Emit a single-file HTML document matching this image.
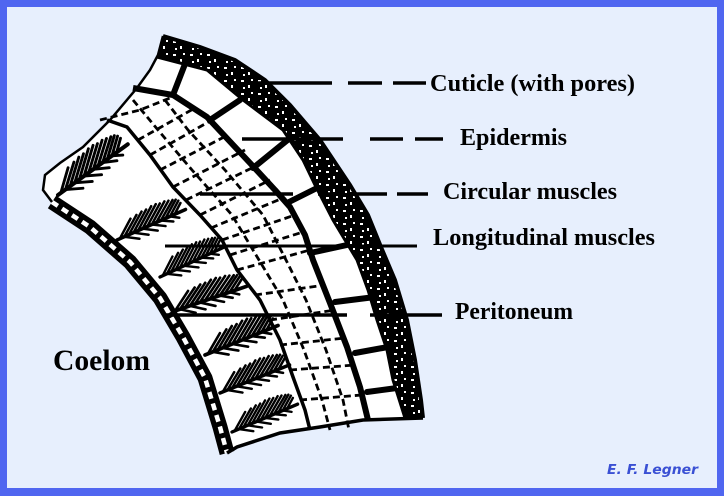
<!DOCTYPE html>
<html><head><meta charset="utf-8"><style>
html,body{margin:0;padding:0;width:724px;height:496px;overflow:hidden;background:#5066f0}
svg{display:block}
</style></head><body>
<svg width="724" height="496" viewBox="0 0 724 496" xmlns="http://www.w3.org/2000/svg">
<defs>
<pattern id="spk" width="17" height="13" patternUnits="userSpaceOnUse">
<rect width="17" height="13" fill="#000"/>
<rect x="3" y="2" width="3" height="2" fill="#fff"/>
<rect x="10" y="7" width="2" height="3" fill="#fff"/>
<rect x="13" y="1" width="2" height="2" fill="#fff"/>
<rect x="5" y="9" width="2" height="2" fill="#fff"/>
</pattern>
<g id="fth" stroke="#000" fill="none" stroke-linecap="round">
<path d="M0,0 L75,0" stroke-width="3.5"/>
<path d="M3,0 l18,-14 M8,0 l20,-15 M13,0 l21,-16 M18,0 l21,-16 M23,0 l22,-17 M28,0 l22,-17 M33,0 l21,-16 M38,0 l21,-16 M43,0 l20,-15 M48,0 l19,-14 M53,0 l17,-13 M58,0 l14,-11 M63,0 l10,-8 M8,0 l13,8 M18,0 l13,8 M28,0 l13,8 M38,0 l12,7 M48,0 l11,6 M58,0 l8,5" stroke-width="2.5"/>
</g>
</defs>

<rect x="7" y="7" width="710" height="481" fill="#e7effd"/>

<!-- white body -->
<path d="M163,36 L200,47 L235,60 L265,80 L290,105 L320,140 L350,185 L368,215 L381,247 L395,280 L407,320 L415,360 L421,400 L423,418 L363,420 L320,427 L280,433 L237,447 L227,453 L220,427 L205,378 L183,337 L160,298 L130,262 L90,227 L52,202 L43,190 L45,175 L60,163 L83,147 L110,120 L137,88 L150,70 L158,55 Z" fill="#fff"/>

<!-- dashed grid (longitudinal muscles) -->
<g stroke="#000" fill="none" stroke-width="2.8" stroke-dasharray="7 4">
<path d="M133,100 L158,130 L192,170 L232,215 L259,260 L283,300 L304,350 L322,400 L330,430"/>
<path d="M165,100 L188,130 L225,170 L263,215 L286,260 L306,300 L326,350 L343,400 L349,430"/>
<path d="M100,120 L140,110 L170,98"/>
<path d="M138,140 L195,108"/>
<path d="M150,155 L212,120"/>
<path d="M160,170 L228,135"/>
<path d="M173,187 L245,150"/>
<path d="M186,200 L258,165"/>
<path d="M200,215 L270,180"/>
<path d="M211,228 L283,198"/>
<path d="M222,240 L295,215"/>
<path d="M230,255 L303,232"/>
<path d="M237,270 L310,250"/>
<path d="M255,295 L325,285"/>
<path d="M270,320 L335,310"/>
<path d="M280,345 L345,338"/>
<path d="M290,370 L355,365"/>
<path d="M300,400 L362,395"/>
</g>

<!-- feathers -->
<use href="#fth" transform="translate(58,195) rotate(-36) scale(1.15)"/>
<use href="#fth" transform="translate(117,240) rotate(-24) scale(1.0)"/>
<use href="#fth" transform="translate(160,277) rotate(-25) scale(0.95)"/>
<use href="#fth" transform="translate(172,312) rotate(-19) scale(1.05)"/>
<use href="#fth" transform="translate(205,355) rotate(-22) scale(1.05)"/>
<use href="#fth" transform="translate(220,393) rotate(-22) scale(1.0)"/>
<use href="#fth" transform="translate(232,432) rotate(-23) scale(0.95)"/>

<!-- line B -->
<path d="M107,120 L127,127 L150,155 L173,187 L200,215 L222,240 L237,270 L260,300 L280,340 L293,377 L305,410 L310,430" stroke="#000" stroke-width="3.5" fill="none"/>
<!-- line A -->
<path d="M133,88 L173,95 L207,117 L250,163 L275,190 L290,207 L305,235 L313,260 L330,303 L347,347 L360,387 L368,420" stroke="#000" stroke-width="6" fill="none" stroke-linejoin="round"/>
<!-- radial dividers -->
<g stroke="#000" stroke-width="6" fill="none" stroke-linecap="round">
<path d="M173,95 L185,64"/>
<path d="M210,120 L240,100"/>
<path d="M253,168 L290,138"/>
<path d="M287,203 L317,188"/>
<path d="M310,253 L347,245"/>
<path d="M335,302 L375,297"/>
<path d="M355,353 L388,347"/>
<path d="M367,392 L397,388"/>
</g>

<!-- cuticle / epidermis band -->
<path d="M163,36 L200,47 L235,60 L265,80 L290,105 L320,140 L350,185 L368,215 L381,247 L395,280 L407,320 L415,360 L421,400 L423,418 L405,418 L393,380 L387,350 L377,320 L368,290 L357,260 L333,220 L315,185 L303,160 L283,130 L243,100 L207,70 L157,57 Z" fill="url(#spk)"/>
<path d="M163,36 L200,47 L235,60 L265,80 L290,105 L320,140 L350,185 L368,215 L381,247 L395,280 L407,320 L415,360 L421,400 L423,418" stroke="#000" stroke-width="4" fill="none"/>
<path d="M405,418 L393,380 L387,350 L377,320 L368,290 L357,260 L333,220 L315,185 L303,160 L283,130 L243,100 L207,70 L157,57" stroke="#000" stroke-width="3" fill="none"/>

<!-- coelom boundary double line -->
<path d="M52,202 L90,227 L130,262 L160,298 L183,337 L205,378 L220,427 L227,453" stroke="#000" stroke-width="15" fill="none" stroke-linejoin="round"/>
<path d="M52,202 L90,227 L130,262 L160,298 L183,337 L205,378 L220,427 L227,453" stroke="#fff" stroke-width="4.5" stroke-dasharray="7 5" fill="none"/>

<!-- edges -->
<path d="M423,418 L363,420 L320,427 L280,433 L237,447 L227,453" stroke="#000" stroke-width="3.5" fill="none"/>
<path d="M163,36 L158,55 L150,70 L137,88 L110,120 L83,147 L60,163 L45,175 L43,190 L52,202" stroke="#000" stroke-width="2.5" fill="none"/>

<!-- leader lines -->
<g stroke="#000" stroke-width="3.5" fill="none">
<path d="M253,83 H332 M348,83 H382 M393,83 H426"/>
<path d="M242,139 H343 M370,139 H403 M415,139 H443"/>
<path d="M200,194 H293 M318,194 H345 M353,194 H387 M397,194 H428"/>
<path d="M165,246 H417" stroke-width="3"/>
<path d="M163,315 H347 M370,315 H442"/>
</g>

<!-- labels -->
<g font-family="'Liberation Serif','Times New Roman',serif" font-weight="bold" font-size="24" fill="#000">
<text x="430" y="91" textLength="205" lengthAdjust="spacingAndGlyphs">Cuticle (with pores)</text>
<text x="460" y="145" textLength="107" lengthAdjust="spacingAndGlyphs">Epidermis</text>
<text x="443" y="199" textLength="174" lengthAdjust="spacingAndGlyphs">Circular muscles</text>
<text x="433" y="245" textLength="222" lengthAdjust="spacingAndGlyphs">Longitudinal muscles</text>
<text x="455" y="319" textLength="118" lengthAdjust="spacingAndGlyphs">Peritoneum</text>
<text x="53" y="370" font-size="29.5" textLength="97" lengthAdjust="spacingAndGlyphs">Coelom</text>
</g>
<text x="607" y="474" font-family="'DejaVu Sans','Liberation Sans',sans-serif" font-weight="bold" font-style="italic" font-size="13" fill="#3a50d4" textLength="91" lengthAdjust="spacingAndGlyphs">E. F. Legner</text>
</svg>
</body></html>
